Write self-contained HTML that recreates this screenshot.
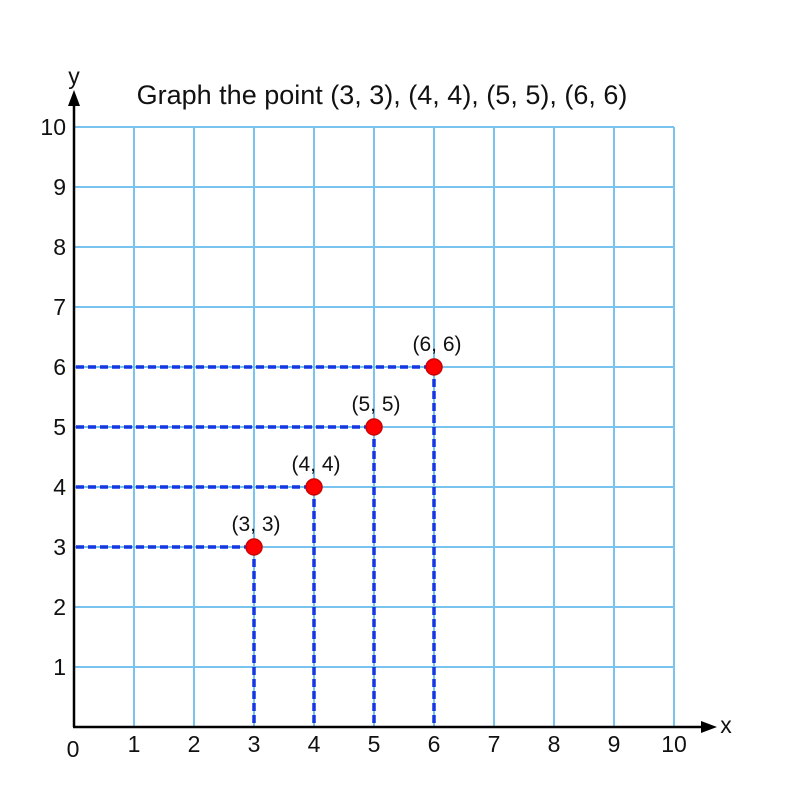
<!DOCTYPE html>
<html><head><style>body{margin:0;background:#fff}svg{display:block}</style></head><body>
<svg width="800" height="800" xmlns="http://www.w3.org/2000/svg" font-family="Liberation Sans, sans-serif">
<g stroke="#79c3ef" stroke-width="2">
<line x1="134" y1="127" x2="134" y2="727"/><line x1="194" y1="127" x2="194" y2="727"/><line x1="254" y1="127" x2="254" y2="727"/><line x1="314" y1="127" x2="314" y2="727"/><line x1="374" y1="127" x2="374" y2="727"/><line x1="434" y1="127" x2="434" y2="727"/><line x1="494" y1="127" x2="494" y2="727"/><line x1="554" y1="127" x2="554" y2="727"/><line x1="614" y1="127" x2="614" y2="727"/><line x1="674" y1="127" x2="674" y2="727"/>
<line x1="74" y1="127" x2="674" y2="127"/><line x1="74" y1="187" x2="674" y2="187"/><line x1="74" y1="247" x2="674" y2="247"/><line x1="74" y1="307" x2="674" y2="307"/><line x1="74" y1="367" x2="674" y2="367"/><line x1="74" y1="427" x2="674" y2="427"/><line x1="74" y1="487" x2="674" y2="487"/><line x1="74" y1="547" x2="674" y2="547"/><line x1="74" y1="607" x2="674" y2="607"/><line x1="74" y1="667" x2="674" y2="667"/>
</g>
<g stroke="#1437e0" stroke-width="3.5" stroke-dasharray="8,4">
<line x1="76" y1="547" x2="254" y2="547"/><line x1="254" y1="547" x2="254" y2="726"/>
<line x1="76" y1="487" x2="314" y2="487"/><line x1="314" y1="487" x2="314" y2="726"/>
<line x1="76" y1="427" x2="374" y2="427"/><line x1="374" y1="427" x2="374" y2="726"/>
<line x1="76" y1="367" x2="434" y2="367"/><line x1="434" y1="367" x2="434" y2="726"/>
</g>
<g stroke="#000" stroke-width="2.5" fill="#000">
<line x1="74" y1="727" x2="74" y2="100"/><line x1="73" y1="727" x2="705" y2="727"/>
<polygon points="74,90 68,106 80,106" stroke="none"/>
<polygon points="717,727 701,721 701,733" stroke="none"/>
</g>
<g fill="#ff0000" stroke="#c00" stroke-width="1.5">
<circle cx="254" cy="547" r="8"/><circle cx="314" cy="487" r="8"/><circle cx="374" cy="427" r="8"/><circle cx="434" cy="367" r="8"/>
</g>
<g font-size="21" fill="#111" text-anchor="middle">
<text x="382" y="104" font-size="27">Graph the point (3, 3), (4, 4), (5, 5), (6, 6)</text>
<text x="74" y="84" font-size="23">y</text><text x="726" y="733" font-size="23">x</text>
<text x="256" y="531">(3, 3)</text><text x="316" y="471">(4, 4)</text><text x="376" y="411">(5, 5)</text><text x="437" y="351">(6, 6)</text>
</g>
<g font-size="23" fill="#111" text-anchor="middle">
<text x="73" y="757">0</text><text x="134" y="752">1</text><text x="194" y="752">2</text><text x="254" y="752">3</text><text x="314" y="752">4</text><text x="374" y="752">5</text><text x="434" y="752">6</text><text x="494" y="752">7</text><text x="554" y="752">8</text><text x="614" y="752">9</text><text x="674" y="752">10</text>
</g>
<g font-size="23" fill="#111" text-anchor="end">
<text x="66" y="135">10</text><text x="66" y="195">9</text><text x="66" y="255">8</text><text x="66" y="315">7</text><text x="66" y="375">6</text><text x="66" y="435">5</text><text x="66" y="495">4</text><text x="66" y="555">3</text><text x="66" y="615">2</text><text x="66" y="675">1</text>
</g>
</svg>
</body></html>
